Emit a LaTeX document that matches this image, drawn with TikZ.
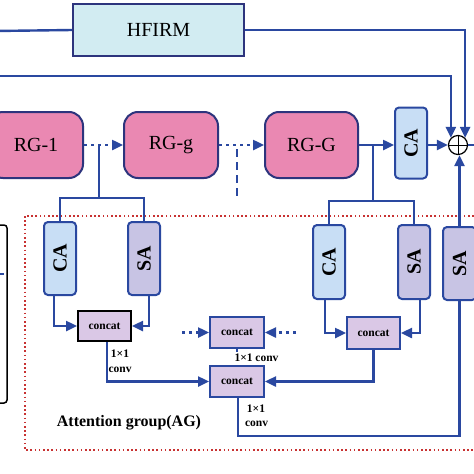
\documentclass[tikz,border=0pt]{standalone}
\usepackage{fontspec}
\setmainfont{Liberation Serif}
\usetikzlibrary{arrows.meta}
\definecolor{lineblue}{RGB}{42,72,160}
\definecolor{navy}{RGB}{45,52,125}
\definecolor{pinkfill}{RGB}{234,136,178}
\definecolor{cafill}{RGB}{200,222,245}
\definecolor{safill}{RGB}{200,196,228}
\definecolor{catfill}{RGB}{218,200,230}
\definecolor{hffill}{RGB}{210,236,242}
\definecolor{reddot}{RGB}{200,50,50}
\tikzset{
  conn/.style={draw=lineblue, line width=2.4pt},
  arr/.style={conn, -{Triangle[length=11pt,width=10pt]}},
  dotconn/.style={arr, dash pattern=on 3pt off 4pt},
  rgbox/.style={draw=navy, fill=pinkfill, line width=2pt, rounded corners=14pt,
    minimum width=94pt, minimum height=66pt, inner sep=0pt, font=\fontsize{20}{22}\selectfont},
  cabox/.style={draw=lineblue, fill=cafill, line width=2pt, rounded corners=4pt,
    minimum width=32pt, minimum height=73pt, inner sep=0pt},
  sabox/.style={cabox, fill=safill},
  vlabel/.style={rotate=90, font=\bfseries\fontsize{20}{22}\selectfont},
  catbox/.style={draw=lineblue, fill=catfill, line width=2pt, minimum width=54pt,
    minimum height=31pt, inner sep=0pt, font=\bfseries\fontsize{11.5}{13}\selectfont},
  small/.style={font=\bfseries\fontsize{11.5}{13}\selectfont, inner sep=0pt},
}
\begin{document}
\begin{tikzpicture}[x=1pt,y=-1pt]
\useasboundingbox (0,0) rectangle (474,474);
\clip (0,0) rectangle (474,474);
\fill[white] (0,0) rectangle (474,474);

% red dotted attention group frame
\draw[reddot, line width=1.6pt, dash pattern=on 1.6pt off 2.6pt] (25,216) rectangle (490,450);
% left black box
\draw[black, line width=1.5pt, rounded corners=3pt] (-20,225) rectangle (7,403);
\draw[conn] (-5,274) -- (4,274);

% top row
\node[draw=navy, fill=hffill, line width=2pt, minimum width=171pt, minimum height=52pt,
  inner sep=0pt, font=\fontsize{20}{22}\selectfont] (hfirm) at (158.5,30) {HFIRM};
\node[rgbox] (rg1) at (36,145) {RG-1};
\node[rgbox] (rgg) at (171,145) {RG-g};
\node[rgbox, minimum width=93pt] (rgG) at (311.5,145) {RG-G};
\node[cabox, minimum height=71pt] (caT) at (411,143) {};
\node[vlabel] at (caT) {CA};
\node[draw=black, fill=white, line width=1.2pt, circle, minimum size=19pt, inner sep=0pt] (plus) at (458,145) {};
\draw[black, line width=1pt] (plus.north) -- (plus.south) (plus.west) -- (plus.east);

% long feedback lines
\coordinate (inA) at (-5,31);
\coordinate (inB) at (-5,76);
\coordinate (outR) at (480,145);
\draw[conn] (inA) -- (hfirm.west);
\draw[arr] (hfirm.east) -| (plus.north east);
\draw[arr] (inB) -| (plus.north west);

% main chain
\draw[dotconn] (rg1.east) -- (rgg.west);
\draw[dotconn] (rgg.east) -- (rgG.west);
\draw[arr] (rgG.east) -- (rgG.east -| caT.west);
\draw[arr] (caT.east |- plus.west) -- (plus.west);
\draw[conn] (plus.east) -- (outR);

% dashed drop
\coordinate (dA) at (237,149);
\coordinate (dB) at (237,199);
\draw[conn, dash pattern=on 8pt off 5pt] (dA) -- (dB);

% lower boxes
\node[cabox] (caL) at (60,258.5) {};
\node[vlabel] at (caL) {CA};
\node[sabox] (saL) at (144,258.5) {};
\node[vlabel] at (saL) {SA};
\node[cabox, minimum height=74pt] (caR) at (329,262) {};
\node[vlabel] at (caR) {CA};
\node[sabox, minimum height=74pt] (saR) at (414,262) {};
\node[vlabel] at (saR) {SA};
\node[sabox, minimum width=33pt] (sa3) at (459.5,263.5) {};
\node[vlabel] at (sa3) {SA};

% branches
\coordinate (br1) at (99,145);
\coordinate (br2) at (373,145);
\draw[conn] (br1) -- (99,199);
\draw[conn] (caL.north) -- ++(0,-23) -| (saL.north);
\draw[conn] (br2) -- (373,202);
\draw[conn] (caR.north) -- ++(0,-23) -| (saR.north);
\draw[arr] (sa3.north) -- (sa3.north |- plus.south);

% concats
\node[catbox, draw=black, minimum width=53pt, minimum height=30pt] (cat1) at (104.5,326) {concat};
\node[catbox] (catM1) at (237,332.5) {concat};
\node[catbox] (catM2) at (237,381.5) {concat};
\node[catbox, minimum width=53pt, minimum height=32pt] (catR) at (373.5,333) {concat};

\draw[arr] ([xshift=-6pt]caL.south) |- (cat1.west);
\draw[arr] ([xshift=5pt]saL.south) |- (cat1.east);
\draw[arr] ([xshift=-4pt]caR.south) |- (catR.west);
\draw[arr] ([xshift=6pt]saR.south) |- (catR.east);

\coordinate (dl) at (182,332.5);
\coordinate (dr) at (296,332.5);
\draw[dotconn] (dl) -- (catM1.west);
\draw[dotconn] (dr) -- (catM1.east);
\draw[conn, dash pattern=on 2.5pt off 10pt] (catM1.south) -- ++(0,6);

\draw[arr] ([xshift=2.5pt]cat1.south) |- (catM2.west);
\draw[arr] (catR.south) |- (catM2.east);
\draw[conn] ([xshift=1pt]catM2.south) -- ++(0,38) -| (sa3.south);

% labels
\node[small] (l1) at (120,354) {1×1};
\node[small] (l2) at (120,370) {conv};
\node[small] (l3) at (256.5,358) {1×1 conv};
\node[small] (l4) at (256,409) {1×1};
\node[small] (l5) at (256.5,423.5) {conv};
\node[font=\bfseries\fontsize{16}{18}\selectfont, inner sep=0pt] (ag) at (129,423) {Attention group(AG)};
\end{tikzpicture}
\end{document}
